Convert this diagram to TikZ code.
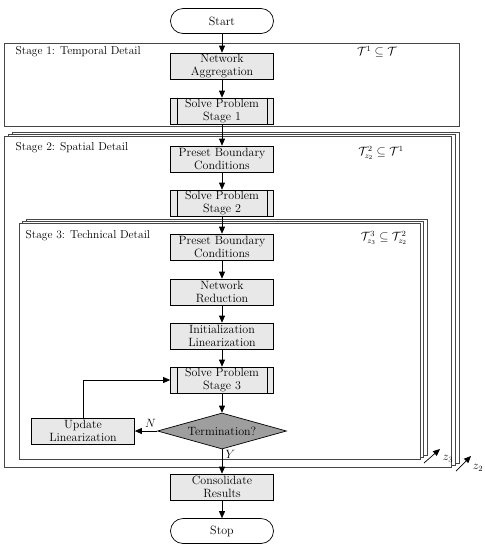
\documentclass[tikz,border=0pt]{standalone}
\usepackage{amssymb}
\usepackage{amsmath}
\usepackage{tikz}
\usetikzlibrary{arrows.meta}
\usetikzlibrary{shapes.geometric}
\definecolor{boxgray}{RGB}{232,232,232}
\definecolor{diagray}{RGB}{158,158,158}
\definecolor{framegray}{RGB}{70,70,70}
\tikzstyle{proc} = [draw, fill=boxgray, minimum width=103pt, minimum height=26pt, inner sep=0pt, align=center]
\tikzstyle{terminal} = [draw, rounded corners=12.5pt, minimum width=103pt, minimum height=25pt, inner sep=0pt]
\tikzstyle{decision} = [draw, diamond, fill=diagray, minimum width=129pt, minimum height=36pt, inner sep=0pt, shape aspect=3.6]
\tikzstyle{stageframe} = [draw=framegray, fill=white, line width=0.8pt]
\tikzstyle{arrow} = [-{Triangle[length=7pt,width=6pt]}]

\begin{document}
\begin{tikzpicture}[x=1pt, y=-1pt, line width=0.7pt, font=\fontsize{12}{13.5}\selectfont]
			\useasboundingbox (0,0) rectangle (485,550);
			
			\draw[stageframe] (4,43) rectangle (459,126);
			\foreach \i in {2,1}
				\draw[stageframe] (4+4*\i,136-2*\i) rectangle (451+4*\i,467-2*\i);
			\draw[stageframe] (4,136) rectangle (451,467);
			\foreach \i in {2,1}
				\draw[stageframe] (19+3.5*\i,223-2*\i) rectangle (420+3.5*\i,459-2*\i);
			\draw[stageframe] (19,223) rectangle (420,459);
			
			\node[anchor=west, font=\fontsize{11.5}{13.5}\selectfont](l1) at (12,52){Stage 1: Temporal Detail};
			\node[anchor=west, font=\fontsize{11.5}{13.5}\selectfont](l2) at (12,148){Stage 2: Spatial Detail};
			\node[anchor=west, font=\fontsize{11.5}{13.5}\selectfont](l3) at (22,236){Stage 3: Technical Detail};
			\node(t1) at (377,52){$\mathcal{T}^1\subseteq\mathcal{T}$};
			\node(t2) at (381,153){$\mathcal{T}^2_{z_2}\subseteq\mathcal{T}^1$};
			\node(t3) at (384,238){$\mathcal{T}^3_{z_3}\subseteq\mathcal{T}^2_{z_2}$};
			
			\node[terminal](start) at (222,21){Start};
			\node[proc](agg) at (222,66){Network\\Aggregation};
			\node[proc](solve1) at (222,111){Solve Problem\\Stage 1};
			\node[proc](bc2) at (222,159){Preset Boundary\\Conditions};
			\node[proc](solve2) at (222,203){Solve Problem\\Stage 2};
			\node[proc](bc3) at (222,247){Preset Boundary\\Conditions};
			\node[proc](red) at (222,292){Network\\Reduction};
			\node[proc](init) at (222,336){Initialization\\Linearization};
			\node[proc](solve3) at (222,380){Solve Problem\\Stage 3};
			\node[decision](check) at (222,431){Termination?};
			\node[proc](upd) at (83,431){Update\\Linearization};
			\node[proc](cons) at (222,487){Consolidate\\Results};
			\node[terminal](stop) at (222,531){Stop};
			
			\foreach \n in {solve1,solve2,solve3}{
				\draw ([xshift=7pt]\n.north west) -- ([xshift=7pt]\n.south west);
				\draw ([xshift=-7pt]\n.north east) -- ([xshift=-7pt]\n.south east);
			}
			
			\draw[arrow](start) -- (agg);
			\draw[arrow](agg) -- (solve1);
			\draw[arrow](solve1) -- (bc2);
			\draw[arrow](bc2) -- (solve2);
			\draw[arrow](solve2) -- (bc3);
			\draw[arrow](bc3) -- (red);
			\draw[arrow](red) -- (init);
			\draw[arrow](init) -- (solve3);
			\draw[arrow](solve3) -- (check);
			\draw[arrow](check) -- node[above, pos=0.3]{$N$} (upd);
			\draw[arrow](upd) |- (solve3);
			\draw[arrow](check) -- node[right, pos=0.2]{$Y$} (cons);
			\draw[arrow](cons) -- (stop);
			
			\coordinate(z3s) at (424,463);
			\coordinate(z3e) at (440,449);
			\draw[arrow](z3s) -- (z3e);
			\node(z3) at (448,459){$z_3$};
			\coordinate(z2s) at (456,471);
			\coordinate(z2e) at (471,456);
			\draw[arrow](z2s) -- (z2e);
			\node(z2) at (478,468){$z_2$};
		\end{tikzpicture}
\end{document}
